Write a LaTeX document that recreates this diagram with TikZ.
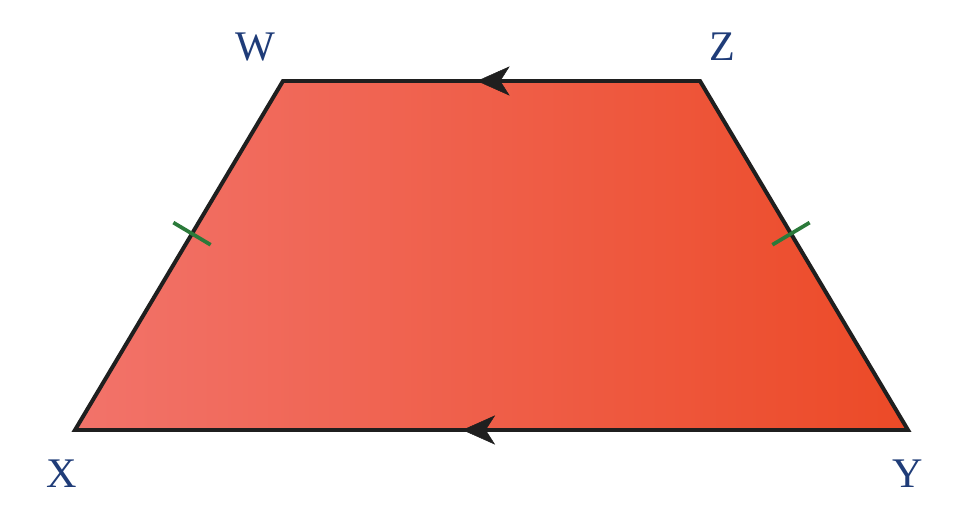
\documentclass[tikz,border=0pt]{standalone}
\usepackage{fontspec}
\setmainfont{Liberation Serif}
\usetikzlibrary{arrows.meta,decorations.markings,calc}

\definecolor{lightred}{HTML}{F2736A}
\definecolor{darkred}{HTML}{EC4A27}
\definecolor{labelblue}{HTML}{1F3C78}
\definecolor{tickgreen}{HTML}{2B7A3A}

\tikzset{
  side/.style={line width=3.4pt,draw=black!88,line join=miter},
  midarrow/.style={postaction={decorate,decoration={markings,
      mark=at position #1 with {\arrow[black!88]{Stealth[length=28pt,width=25pt,inset=8pt]}}}}},
  tick/.style={line width=3.2pt,draw=tickgreen},
  vlabel/.style={text=labelblue,font=\fontsize{36}{40}\selectfont,inner sep=0pt}
}

\begin{document}
\begin{tikzpicture}[x=0.03cm,y=-0.03cm]
   \useasboundingbox (0,0) rectangle (973,509);

   \coordinate (X) at (75,430);
   \coordinate (Y) at (908,430);
   \coordinate (W) at (283,81);
   \coordinate (Z) at (700,81);

   % trapeze
   \shade[left color=lightred,right color=darkred] (X) -- (W) -- (Z) -- (Y) -- cycle;
   \draw[side] (X) -- (W) -- (Z) -- (Y) -- cycle;

   % parallel sides
   \path[midarrow=0.535] (Z) -- (W);
   \path[midarrow=0.535] (Y) -- (X);

   % equal sides
   \draw[tick] ($(X)!0.5625!(W)!18.5pt!90:(W)$) -- ($(X)!0.5625!(W)!18.5pt!-90:(W)$);
   \draw[tick] ($(Z)!0.4375!(Y)!18.5pt!90:(Y)$) -- ($(Z)!0.4375!(Y)!18.5pt!-90:(Y)$);

   % labels
   \node[vlabel] (lW) at (255,47) {W};
   \node[vlabel] (lZ) at (722,47) {Z};
   \node[vlabel] (lX) at (62,474) {X};
   \node[vlabel] (lY) at (908,474) {Y};

\end{tikzpicture}
\end{document}
